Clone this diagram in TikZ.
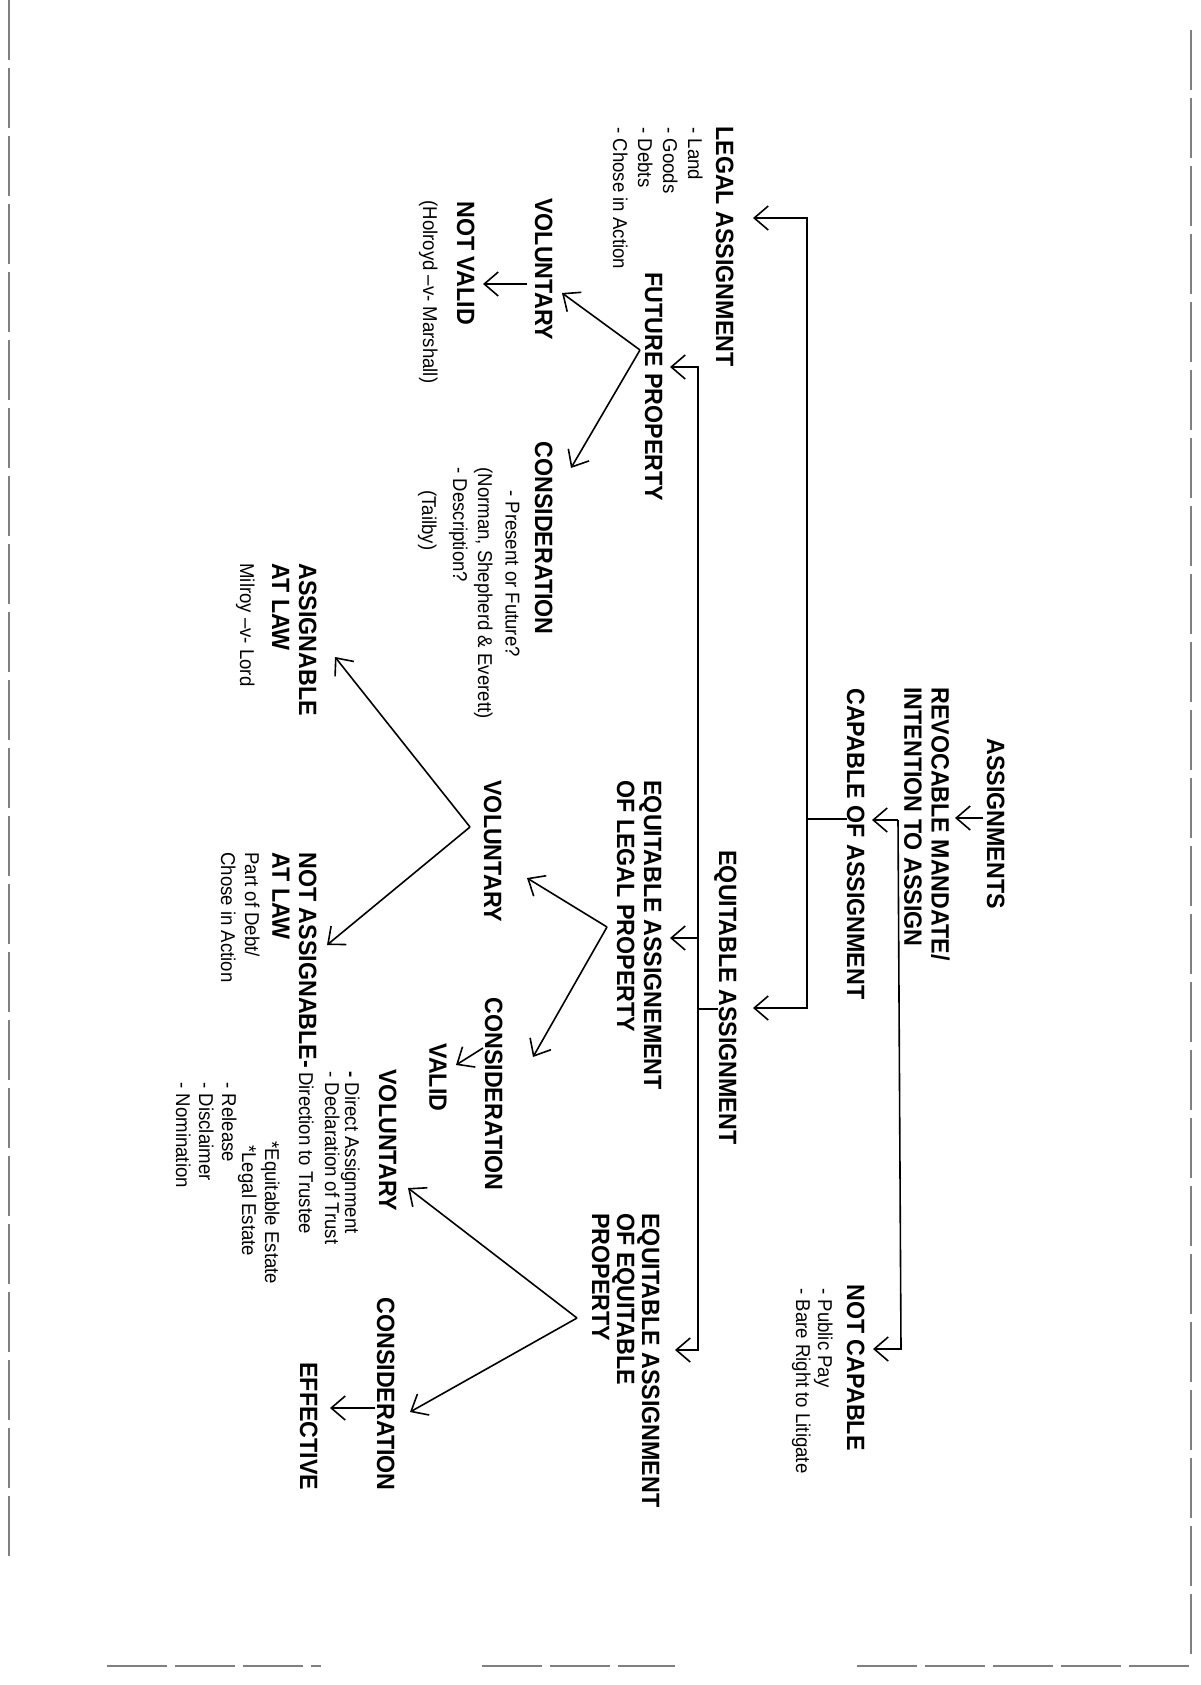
\documentclass[tikz,border=0pt]{standalone}
\usepackage{fontspec}
\setmainfont{Liberation Sans}[FakeStretch=0.93]
\usetikzlibrary{arrows.meta}
\tikzset{
  hd/.style={rotate=-90, anchor=north west, inner sep=0pt, align=left, font=\fontsize{12.5}{13.5}\selectfont\bfseries},
  sm/.style={rotate=-90, anchor=north west, inner sep=0pt, align=left, font=\fontsize{10}{12.5}\selectfont},
  con/.style={line width=0.8pt},
  arr/.style={line width=0.8pt, -{Straight Barb[length=7pt,width=12pt,line width=0.8pt]}},
  scan/.style={line width=0.6pt, gray, dash pattern=on 30pt off 4pt}
}
\begin{document}
\begin{tikzpicture}[x=0.5pt,y=-0.5pt]
\useasboundingbox (0,0) rectangle (1200,1685);
\fill[white] (0,0) rectangle (1200,1685);
% scan border artefacts
\draw[scan] (9,0) -- (9,1560);
\draw[scan] (1191,30) -- (1191,1660);
\draw[scan] (107,1666) -- (321,1666);
\draw[scan] (482,1666) -- (675,1666);
\draw[scan] (857,1666) -- (1189,1666);

% nodes
\node[hd] (asg) at (1005,738) {ASSIGNMENTS};
\node[hd] (rev) at (950,687) {REVOCABLE MANDATE/\\INTENTION TO ASSIGN};
\node[hd] (cap) at (865,688) {CAPABLE OF ASSIGNMENT};
\node[hd] (notcap) at (865,1284) {NOT CAPABLE};
\node[sm,font=\fontsize{10}{11}\selectfont] (notcapl) at (833,1288) {- Public Pay\\- Bare Right to Litigate};
\node[hd] (legal) at (734,126) {LEGAL ASSIGNMENT};
\node[sm] (legall) at (703,127) {- Land\\- Goods\\- Debts\\- Chose in Action};
\node[hd] (equit) at (737,850) {EQUITABLE ASSIGNMENT};
\node[hd] (future) at (663,272) {FUTURE PROPERTY};
\node[hd] (vol1) at (553,198) {VOLUNTARY};
\node[hd] (cons1) at (553,441) {CONSIDERATION};
\node[hd] (notvalid) at (475,201) {NOT VALID};
\node[sm] (holroyd) at (438,200) {(Holroyd --v- Marshall)};
\node[sm] (pres) at (520,490) {- Present or Future?};
\node[sm] (norman) at (493,467) {(Norman, Shepherd \& Everett)};
\node[sm] (desc) at (468,467) {- Description?};
\node[sm] (tailby) at (437,490) {(Tailby)};
\node[hd] (assign) at (317,563) {ASSIGNABLE\\AT LAW};
\node[sm] (milroy) at (255,563) {Milroy --v- Lord};
\node[hd] (ealp) at (662,780) {EQUITABLE ASSIGNEMENT\\OF LEGAL PROPERTY};
\node[hd] (vol2) at (502,780) {VOLUNTARY};
\node[hd] (cons2) at (503,997) {CONSIDERATION};
\node[hd] (valid) at (447,1043) {VALID};
\node[hd] (vol3) at (397,1069) {VOLUNTARY};
\node[sm,font=\fontsize{10}{10}\selectfont] (vol3l) at (360,1071) {\textbf{-} Direct Assignment\\- Declaration of Trust};
\node[hd] (notasg) at (317,852) {NOT ASSIGNABLE-\,{\fontsize{10}{12}\selectfont\mdseries Direction to Trustee}};
\node[hd] (atlaw) at (290,852) {AT LAW};
\node[sm,font=\fontsize{10}{12}\selectfont] (partdebt) at (260,852) {Part of Debt/\\Chose in Action};
\node[sm] (eqest) at (280,1141) {*Equitable Estate};
\node[sm] (legest) at (257,1145) {*Legal Estate};
\node[sm,font=\fontsize{10}{11.5}\selectfont] (rel) at (237,1082) {- Release\\- Disclaimer\\- Nomination};
\node[hd,font=\fontsize{12.5}{12.5}\selectfont\bfseries] (eaep) at (660,1213) {EQUITABLE ASSIGNMENT\\OF EQUITABLE\\PROPERTY};
\node[hd] (cons3) at (395,1297) {CONSIDERATION};
\node[hd] (eff) at (318,1362) {EFFECTIVE};

% connector points
\coordinate (a1s) at (983,818);  \coordinate (a1e) at (955,818);
\coordinate (a2s) at (898,820);  \coordinate (a2e) at (872,820);
\coordinate (nc1) at (901,1349); \coordinate (nc2) at (873,1349);
\coordinate (c0) at (847,819);   \coordinate (c1) at (807,819);
\coordinate (c2) at (807,218);   \coordinate (c3) at (753,218);
\coordinate (c4) at (807,1008);  \coordinate (c5) at (753,1008);
\coordinate (t0) at (718,1009);  \coordinate (t1) at (698,1009);
\coordinate (t2) at (698,367);   \coordinate (t3) at (670,367);
\coordinate (t4) at (698,938);   \coordinate (t5) at (670,938);
\coordinate (t6) at (698,1350);  \coordinate (t7) at (675,1350);
\coordinate (fb) at (640,350);   \coordinate (fv) at (562,293); \coordinate (fc) at (571,468);
\coordinate (v1s) at (527,284);  \coordinate (v1e) at (483,284);
\coordinate (lb) at (607,927);   \coordinate (lv) at (527,878); \coordinate (lc) at (533,1057);
\coordinate (vb) at (470,827);   \coordinate (va) at (335,657); \coordinate (vn) at (327,945);
\coordinate (k1) at (483,1048);  \coordinate (k2) at (456,1065);
\coordinate (eb) at (577,1318);  \coordinate (ev) at (408,1188); \coordinate (ec) at (410,1412);
\coordinate (f1) at (375,1408);  \coordinate (f2) at (330,1408);

% connectors
\draw[arr] (a1s) -- (a1e);
\draw[arr] (a2s) -- (a2e);
\draw[arr] (a2s) -- (nc1) -- (nc2);
\draw[con] (c0) -- (c1);
\draw[arr] (c1) -- (c2) -- (c3);
\draw[arr] (c1) -- (c4) -- (c5);
\draw[con] (t0) -- (t1);
\draw[arr] (t1) -- (t2) -- (t3);
\draw[arr] (t4) -- (t5);
\draw[arr] (t1) -- (t6) -- (t7);
\draw[arr] (fb) -- (fv);
\draw[arr] (fb) -- (fc);
\draw[arr] (v1s) -- (v1e);
\draw[arr] (lb) -- (lv);
\draw[arr] (lb) -- (lc);
\draw[arr] (vb) -- (va);
\draw[arr] (vb) -- (vn);
\draw[arr] (k1) -- (k2);
\draw[arr] (eb) -- (ev);
\draw[arr] (eb) -- (ec);
\draw[arr] (f1) -- (f2);
\end{tikzpicture}
\end{document}
